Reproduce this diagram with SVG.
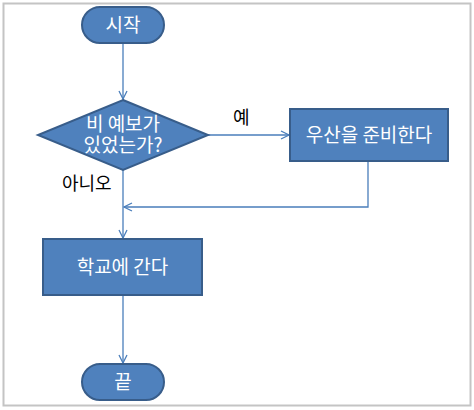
<svg xmlns="http://www.w3.org/2000/svg" width="474" height="410" viewBox="0 0 474 410">
<defs>
<style>
.shape{fill:#4f81bd;stroke:#385d8a;stroke-width:2}
.t{font-family:"Noto Sans CJK KR","Liberation Sans",sans-serif;fill:#ffffff;font-size:19px;text-anchor:middle}
.lbl{font-family:"Noto Sans CJK KR","Liberation Sans",sans-serif;fill:#000000;font-size:18px}
.c{fill:none;stroke:#4a7ebb;stroke-width:1.3}
</style>
<marker id="ah" viewBox="0 0 10 10" refX="9" refY="5" markerWidth="10" markerHeight="10" markerUnits="userSpaceOnUse" orient="auto">
<path d="M1,1 L9,5 L1,9" fill="none" stroke="#4a7ebb" stroke-width="1.3"/>
</marker>
</defs>
<rect x="0" y="0" width="474" height="410" fill="#ffffff"/>
<rect x="3.5" y="3.5" width="467" height="402" fill="none" stroke="#c4c4c4" stroke-width="2"/>
<g id="connectors">
<line class="c" x1="123" y1="43" x2="123" y2="99" marker-end="url(#ah)"/>
<line class="c" x1="208" y1="135" x2="289" y2="135" marker-end="url(#ah)"/>
<polyline class="c" points="368,161 368,207 124,207" marker-end="url(#ah)"/>
<line class="c" x1="123" y1="170" x2="123" y2="238" marker-end="url(#ah)"/>
<line class="c" x1="123" y1="295" x2="123" y2="363" marker-end="url(#ah)"/>
</g>
<g id="start">
<rect class="shape" x="82" y="7" width="82" height="36" rx="18"/>
<text class="t" x="123" y="32">시작</text>
</g>
<g id="decision">
<polygon class="shape" points="123,100 208,135 123,170 38,135"/>
<text class="t" x="123" y="131" font-size="14.5"><tspan x="123">비 예보가</tspan><tspan x="123" dy="21">있었는가?</tspan></text>
</g>
<g id="label-yes">
<text class="lbl" x="233" y="124">예</text>
</g>
<g id="label-no">
<text class="lbl" x="62" y="190">아니오</text>
</g>
<g id="umbrella">
<rect class="shape" x="290" y="109" width="158" height="52"/>
<text class="t" x="369" y="142">우산을 준비한다</text>
</g>
<g id="school">
<rect class="shape" x="43" y="239" width="159" height="56"/>
<text class="t" x="122.5" y="274">학교에 간다</text>
</g>
<g id="end">
<rect class="shape" x="82" y="364" width="82" height="36" rx="18"/>
<text class="t" x="123" y="389">끝</text>
</g>
</svg>
